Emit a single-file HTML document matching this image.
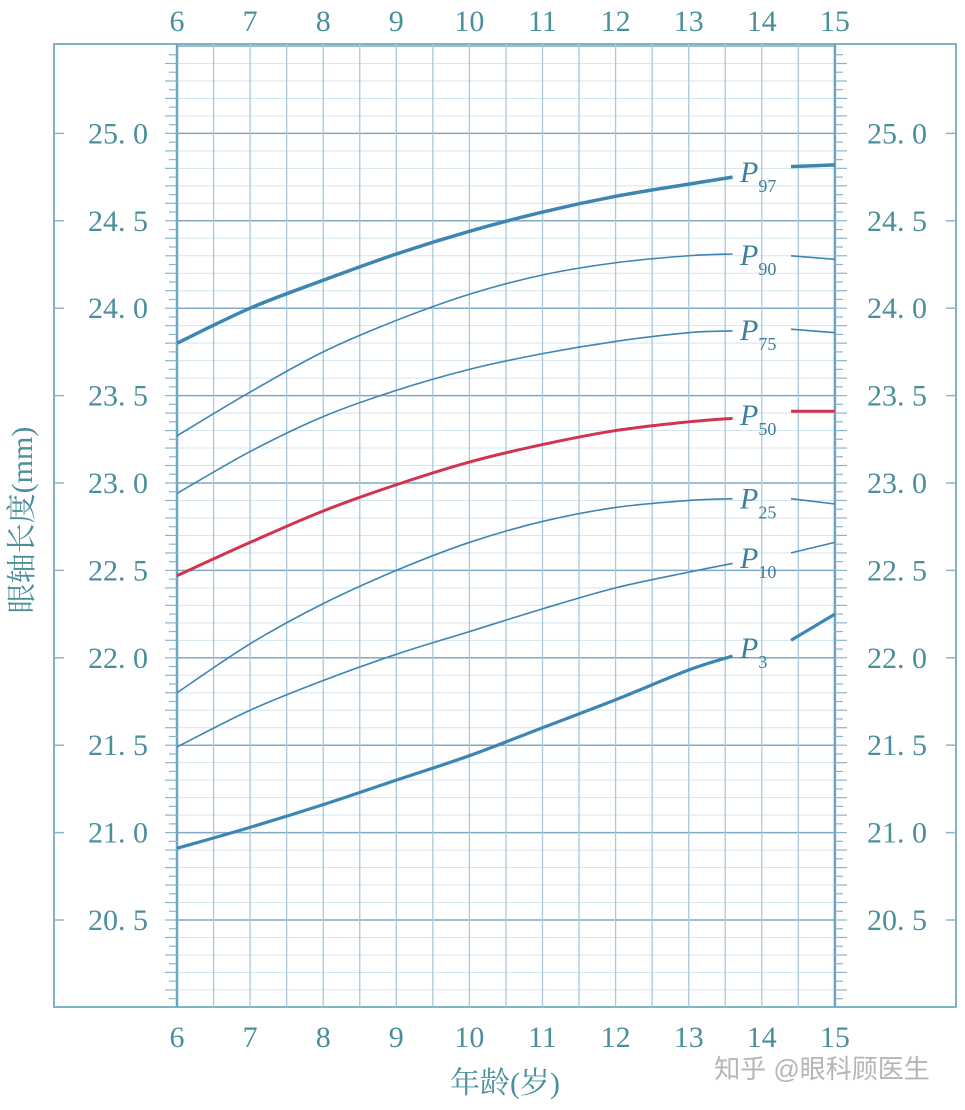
<!DOCTYPE html>
<html><head><meta charset="utf-8"><style>
html,body{margin:0;padding:0;background:#fff;}
svg text{font-family:"Liberation Serif","Noto Serif CJK SC",serif;fill:#4a8f9c;}
</style></head><body>
<svg id="c" width="965" height="1105"></svg>
<script>
const ages=[6,7,8,9,10,11,12,13,13.6];
const tailAges=[14.4,15];
const seriesNames=["P97","P90","P75","P50","P25","P10","P3"];
const p97=[23.80,24.00,24.16,24.31,24.44,24.55,24.64,24.71,24.75];
const p90=[23.27,23.52,23.75,23.93,24.08,24.19,24.26,24.30,24.31];
const p75=[22.94,23.18,23.38,23.53,23.65,23.74,23.81,23.86,23.87];
const p50=[22.47,22.66,22.84,22.99,23.12,23.22,23.30,23.35,23.37];
const p25=[21.80,22.08,22.31,22.50,22.66,22.78,22.86,22.90,22.91];
const p10=[21.49,21.70,21.87,22.02,22.15,22.28,22.40,22.49,22.54];
const p3=[20.91,21.03,21.16,21.30,21.44,21.60,21.76,21.93,22.01];
const p97t=[24.81,24.82],p90t=[24.30,24.28],p75t=[23.88,23.86],p50t=[23.41,23.41],p25t=[22.91,22.88],p10t=[22.60,22.66],p3t=[22.10,22.25];
const xTicks=[6,7,8,9,10,11,12,13,14,15];
const yTicks=["20.5","21.0","21.5","22.0","22.5","23.0","23.5","24.0","24.5","25.0"];
const subs=["97","90","75","50","25","10","3"];

const NS="http://www.w3.org/2000/svg";
const svg=document.getElementById('c');
function X(a){return 177+(a-6)*73.1;}
function Y(v){return 920-(v-20.5)*174.8;}
function mk(t,at,parent){const e=document.createElementNS(NS,t);for(const k in at)e.setAttribute(k,at[k]);(parent||svg).appendChild(e);return e;}
const yTop=44,yBot=1007;
let f=mk('rect',{x:54,y:44,width:902,height:963,fill:'none',stroke:'#7fb3c8','stroke-width':2});


for(let v=20.1;v<25.75;v+=0.1){const y=Y(v);if(y<yTop||y>yBot)continue;const maj=Math.abs(v*2-Math.round(v*2))<0.01;
 const l=mk('line',{x1:177,x2:835,y1:y,y2:y,stroke:maj?'#7fa9c4':'#d3e5ef','stroke-width':maj?1.5:1});
 
 }
for(let a=6;a<=15.01;a+=0.5){const l=mk('line',{x1:X(a),x2:X(a),y1:yTop,y2:yBot,stroke:(a===6||a===15)?'#6aa6c4':'#a9c8d9','stroke-width':(a===6||a===15)?2.5:1.3});
 
 }
for(let v=20.05;v<25.8;v+=0.05){const y=Y(v);if(y<yTop+5||y>yBot-3)continue;const big=Math.round(v*20)%2===0;
 [177,835].forEach(x=>{const t=mk('line',{x1:x,x2:x+(x===177?0:(big?12:8)),y1:y,y2:y,stroke:'#8ab5c8','stroke-width':1.2});
 if(x===177){t.setAttribute('x1',x-(big?12:8));}
 
 });}
yTicks.forEach(s=>{const y=Y(parseFloat(s));
 [[118,'y-tick-left'],[897,'y-tick-right']].forEach(([x,n])=>{const t=mk('text',{x:x,y:y+10,'font-size':30,'text-anchor':'middle'});t.textContent=s.replace('.','. ');
 });
 [[54,64],[946,956]].forEach(([a,b])=>{const t=mk('line',{x1:a,x2:b,y1:y,y2:y,stroke:'#8ab5c8','stroke-width':1.5});});});
xTicks.forEach(a=>{[[31,'x-tick-top'],[1047,'x-tick-bottom']].forEach(([y,n])=>{const t=mk('text',{x:X(a),y:y,'font-size':30,'text-anchor':'middle'});t.textContent=a;
 });});
let t=mk('text',{x:505,y:1093,'font-size':30,'text-anchor':'middle'});t.textContent='年龄(岁)';

t=mk('text',{x:0,y:0,'font-size':30,'text-anchor':'middle',transform:'translate(32,520) rotate(-90)'});t.textContent='眼轴长度(mm)';

t=mk('text',{x:822,y:1078,'font-size':26,'text-anchor':'middle',style:'fill:#b5b5b5;font-family:"Liberation Sans","Noto Sans CJK SC",sans-serif'});t.textContent='知乎 @眼科顾医生';

const main=[p97,p90,p75,p50,p25,p10,p3],tails=[p97t,p90t,p75t,p50t,p25t,p10t,p3t];
const widths=[3.5,1.6,1.6,3,1.6,1.6,3.2];
function path(xs,vs){let d='';xs.forEach((a,i)=>{d+=(i?'L':'M')+X(a).toFixed(1)+','+Y(vs[i]).toFixed(1);});return d;}
function smooth(xs,vs){const p=xs.map((a,i)=>[X(a),Y(vs[i])]);let d='M'+p[0];for(let i=0;i<p.length-1;i++){const p0=p[i-1]||p[i],p1=p[i],p2=p[i+1],p3_=p[i+2]||p2;
 const c1=[p1[0]+(p2[0]-p0[0])/6,p1[1]+(p2[1]-p0[1])/6],c2=[p2[0]-(p3_[0]-p1[0])/6,p2[1]-(p3_[1]-p1[1])/6];d+='C'+c1+' '+c2+' '+p2;}return d;}
main.forEach((vs,i)=>{const col=i===3?'#d2334f':'#3d86b2';
 let p=mk('path',{d:smooth(ages,vs),fill:'none',stroke:col,'stroke-width':widths[i]});
 
 p=mk('path',{d:path(tailAges,tails[i]),fill:'none',stroke:col,'stroke-width':widths[i]});
 
 const ly=Y((vs[8]+tails[i][0])/2);
 const g=mk('text',{x:740,y:ly+10,'font-size':30,'font-style':'italic',style:'fill:#3d7f9c'});
 
 const s1=mk('tspan',{},g);s1.textContent='P';const s2=mk('tspan',{dy:10,'font-size':18,'font-style':'normal'},g);s2.textContent=subs[i];});
</script>
</body></html>
